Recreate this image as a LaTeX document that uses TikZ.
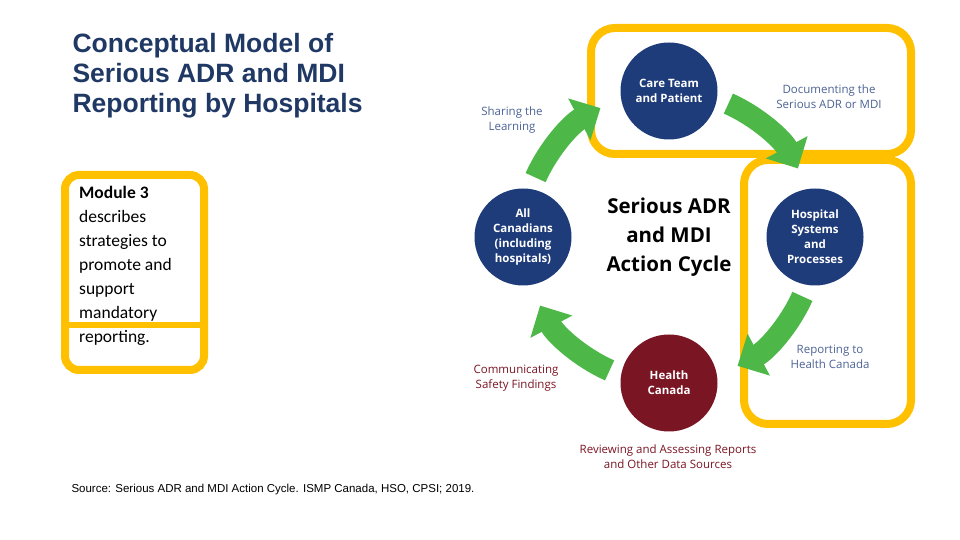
\documentclass[tikz,border=0pt]{standalone}
\usepackage{fontspec}
\setmainfont{Liberation Sans}
\newfontfamily\calib{Carlito}
\newfontfamily\myr{Open Sans}
\usetikzlibrary{arrows.meta,calc}
\definecolor{gold}{HTML}{FFC000}
\definecolor{navy}{HTML}{1F3C7A}
\definecolor{wine}{HTML}{7A1523}
\definecolor{leaf}{HTML}{4DB848}
\definecolor{ttl}{HTML}{1F3864}
\tikzset{
  stage/.style={circle,fill=navy,minimum size=97pt,inner sep=0pt,text=white,
    font=\myr\bfseries\fontsize{11.5}{15}\selectfont,align=center},
  flow/.style={leaf,line width=22pt,-{Triangle[width=46pt,length=24pt]}},
  steplbl/.style={font=\myr\fontsize{11.5}{15}\selectfont,align=center,text=navy!80},
  frame/.style={gold,line width=8pt,rounded corners=24pt}
}
\begin{document}
\begin{tikzpicture}[x=1pt,y=1pt]
\useasboundingbox (0,0) rectangle (960,540);
% frames
\draw[frame] (591,512) rectangle (911,386);
\draw[frame] (744,380) rectangle (911,116);
\draw[frame,rounded corners=14pt] (65,365) rectangle (204,170);
\draw[gold,line width=6pt] (66,215) -- (203,215);
% title
\node[anchor=north west,align=left,text=ttl,font=\bfseries\fontsize{26.5}{30}\selectfont] (title) at (69,510)
  {Conceptual Model of\\Serious ADR and MDI\\Reporting by Hospitals};
\node[anchor=north west,align=left,font=\calib\fontsize{17.5}{24}\selectfont,inner sep=1pt] (mod) at (78,355)
  {\textbf{Module 3}\\describes\\strategies to\\promote and\\support\\mandatory\\reporting.};
\node[anchor=west,font=\fontsize{11.5}{12}\selectfont] (src) at (68,50)
  {Source: Serious ADR and MDI Action Cycle. ISMP Canada, HSO, CPSI; 2019.};
% cycle
\coordinate (cen) at (669,303);
\node[stage] (care) at ($(cen)+(90:146)$) {Care Team\\and Patient};
\node[stage] (hosp) at ($(cen)+(0:146)$) {Hospital\\Systems\\and\\Processes};
\node[stage,fill=wine] (hc) at ($(cen)+(-90:146)$) {Health\\Canada};
\node[stage] (all) at ($(cen)+(180:146)$) {All\\Canadians\\(including\\hospitals)};
\node[font=\myr\bfseries\fontsize{20.5}{29}\selectfont,align=center] (mid) at (669,303)
  {Serious ADR\\and MDI\\Action Cycle};
\coordinate (s1) at ($(cen)+(66:146)$);
\coordinate (s2) at ($(cen)+(-24:146)$);
\coordinate (s3) at ($(cen)+(-114:146)$);
\coordinate (s4) at ($(cen)+(156:146)$);
\draw[flow] (s1) arc[start angle=66,end angle=28,radius=146];
\draw[flow] (s2) arc[start angle=-24,end angle=-62,radius=146];
\draw[flow] (s3) arc[start angle=-114,end angle=-152,radius=146];
\draw[flow] (s4) arc[start angle=156,end angle=118,radius=146];
% step labels
\node[steplbl] (l1) at (829,443) {Documenting the\\Serious ADR or MDI};
\node[steplbl] (l2) at (830,183) {Reporting to\\Health Canada};
\node[steplbl,text=wine] (l3) at (668,83) {Reviewing and Assessing Reports\\and Other Data Sources};
\node[steplbl,text=wine] (l4) at (516,162) {Communicating\\Safety Findings};
\node[steplbl] (l5) at (512,420) {Sharing the\\Learning};
\end{tikzpicture}
\end{document}
